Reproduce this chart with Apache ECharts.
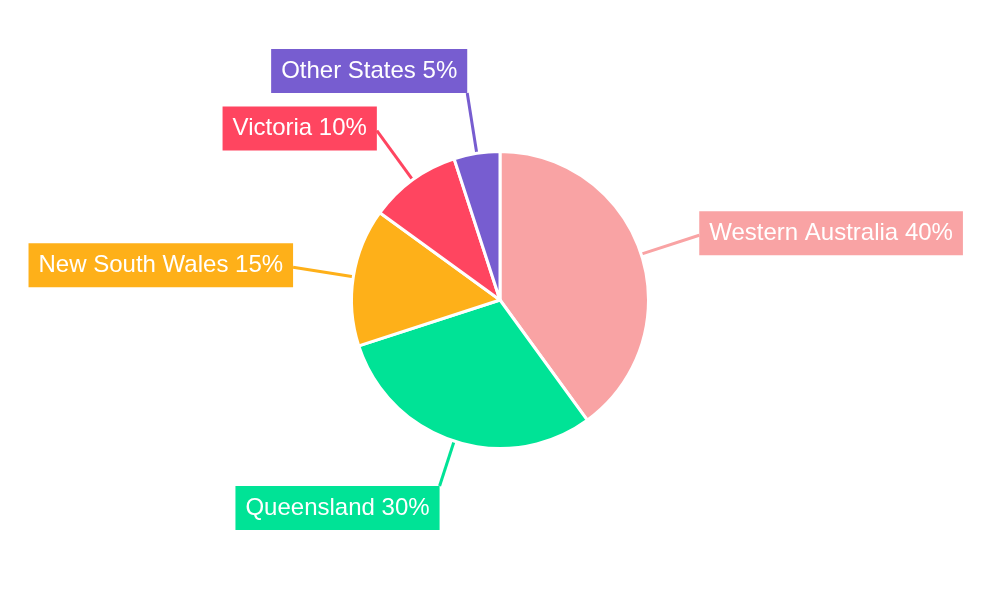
<!DOCTYPE html>
<html>
<head>
<meta charset="utf-8">
<script src="https://cdn.jsdelivr.net/npm/echarts@6/dist/echarts.min.js"></script>
<style>
html,body{margin:0;padding:0;background:#fff;}
#chart{width:1000px;height:600px;}
</style>
</head>
<body>
<div id="chart"></div>
<script>
const categories = ['Western Australia', 'Queensland', 'New South Wales', 'Victoria', 'Other States'];
const values = [40, 30, 15, 10, 5];
const colors = ['#F9A3A4', '#00E396', '#FEB019', '#FF4560', '#775DD0'];

const chart = echarts.init(document.getElementById('chart'), null, {renderer: 'canvas'});

const data = categories.map((name, i) => ({
  name: name,
  value: values[i],
  itemStyle: {color: colors[i]},
  label: {backgroundColor: colors[i]},
  labelLine: {
    length: name === 'Queensland' ? 47 : 61,
    lineStyle: {color: colors[i]}
  }
}));

chart.setOption({
  animation: false,
  series: [{
    type: 'pie',
    center: [500, 300],
    radius: 148.5,
    startAngle: 90,
    clockwise: true,
    avoidLabelOverlap: false,
    itemStyle: {borderColor: '#ffffff', borderWidth: 3},
    label: {
      show: true,
      formatter: '{b} {c}%',
      color: '#ffffff',
      fontSize: 24,
      lineHeight: 24,
      fontFamily: '"Liberation Sans", Arial, sans-serif',
      padding: [10, 10, 10, 10],
      borderRadius: 0
    },
    labelLine: {
      show: true,
      length: 61,
      length2: 0,
      smooth: false,
      lineStyle: {width: 3}
    },
    labelLayout: function (params) {
      const pts = params.labelLinePoints;
      if (!pts) return {};
      const start = pts[0];
      const end = pts[pts.length - 1];
      const dx = end[0] - start[0];
      const dy = end[1] - start[1];
      const len = Math.sqrt(dx * dx + dy * dy) || 1;
      const ny = dy / len;
      let va = 'middle';
      if (ny < -0.85) va = 'bottom';
      else if (ny > 0.85) va = 'top';
      return {
        x: end[0],
        y: va === 'middle' ? end[1] - 2 : end[1],
        align: dx >= 0 ? 'left' : 'right',
        verticalAlign: va,
        labelLinePoints: pts
      };
    },
    data: data
  }]
});
</script>
</body>
</html>
